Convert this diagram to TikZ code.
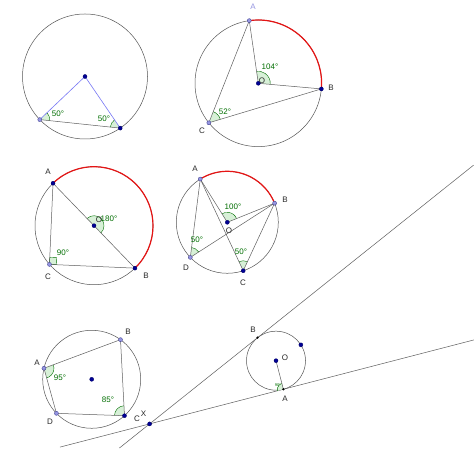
\documentclass[tikz,border=0pt]{standalone}
\usepackage{fontspec}
\setmainfont{Liberation Sans}
\usetikzlibrary{angles,calc}
\definecolor{ptdark}{RGB}{0,0,150}
\definecolor{ptlight}{RGB}{150,150,225}
\definecolor{ptedge}{RGB}{70,70,150}
\definecolor{segcol}{RGB}{95,95,95}
\definecolor{circcol}{RGB}{85,85,85}
\definecolor{violetline}{RGB}{120,120,245}
\definecolor{angfill}{RGB}{215,240,215}
\definecolor{angdraw}{RGB}{0,110,0}
\definecolor{labtext}{RGB}{40,40,40}
\definecolor{redarc}{RGB}{230,20,20}
\begin{document}
\begin{tikzpicture}[x=1pt,y=1pt,font=\fontsize{8}{9}\selectfont,
  circ/.style={draw=circcol,line width=0.5pt},
  seg/.style={draw=segcol,line width=0.5pt},
  vseg/.style={draw=violetline,line width=0.6pt},
  arcred/.style={draw=redarc,line width=1.2pt},
  dpt/.style={circle,fill=ptdark,draw=ptdark!70!black,inner sep=0pt,minimum size=4pt},
  lpt/.style={circle,fill=ptlight,draw=ptedge,inner sep=0pt,minimum size=4pt},
  bpt/.style={circle,fill=black,inner sep=0pt,minimum size=2.5pt},
  ang/.style={draw=angdraw,fill=angfill,line width=0.4pt,angle radius=10pt},
  alab/.style={text=angdraw,inner sep=0pt},
  lab/.style={text=labtext,inner sep=0pt}]
\useasboundingbox (0,0) rectangle (474,449);
\fill[white] (0,0) rectangle (474,449);

% ---------- circle 1
\coordinate (O1) at (85,372.5);
\coordinate (P1) at ($(O1)+(223.6:62.5)$);
\coordinate (P2) at ($(O1)+(-55.7:62.5)$);
\draw[circ] (O1) circle[radius=62.5];
\pic[ang] {angle=P2--P1--O1};
\pic[ang] {angle=O1--P2--P1};
\draw[seg] (P1) -- (P2);
\draw[vseg] (P1) -- (O1) -- (P2);
\node[dpt] (n1O) at (O1) {};
\node[lpt] (n1P1) at (P1) {};
\node[dpt] (n1P2) at (P2) {};
\node[alab] (t1a) at (58,335) {50°};
\node[alab] (t1b) at (104,330) {50°};

% ---------- circle 2
\coordinate (O2) at (258.3,365.7);
\coordinate (A2) at ($(O2)+(98.2:63.3)$);
\coordinate (B2) at ($(O2)+(-5.1:63.3)$);
\coordinate (C2) at ($(O2)+(218.6:63.3)$);
\draw[circ] (O2) circle[radius=63.3];
\draw[arcred] (A2) arc[start angle=98.2,end angle=-5.1,radius=63.3];
\pic[ang,angle radius=12pt] {angle=B2--O2--A2};
\pic[ang,angle radius=12pt] {angle=B2--C2--A2};
\draw[seg] (A2) -- (C2) -- (B2) -- (O2) -- (A2);
\node[dpt] (n2O) at (O2) {};
\node[lpt] (n2A) at (A2) {};
\node[dpt] (n2B) at (B2) {};
\node[lpt] (n2C) at (C2) {};
\node[lab,text=ptlight] (l2A) at (253,442) {A};
\node[lab] (l2O) at (262,368) {O};
\node[lab] (l2B) at (331,361) {B};
\node[lab] (l2C) at (202,318) {C};
\node[alab] (t2a) at (270,382) {104°};
\node[alab] (t2b) at (225,337) {52°};

% ---------- circle 3
\coordinate (O3) at (94,223.3);
\coordinate (A3) at ($(O3)+(134:59)$);
\coordinate (B3) at ($(O3)+(-46:59)$);
\coordinate (C3) at ($(O3)+(221:59)$);
\draw[circ] (O3) circle[radius=59];
\draw[arcred] (A3) arc[start angle=134,end angle=-46,radius=59];
\pic[ang] {angle=B3--O3--A3};
\coordinate (r1) at ($(C3)!7pt!(A3)$);
\coordinate (r2) at ($(C3)!7pt!(B3)$);
\coordinate (r3) at ($(r1)+(r2)-(C3)$);
\draw[draw=angdraw,fill=angfill,line width=0.4pt] (C3) -- (r1) -- (r3) -- (r2) -- cycle;
\draw[seg] (A3) -- (C3) -- (B3) -- (A3);
\node[dpt] (n3O) at (O3) {};
\node[dpt] (n3A) at (A3) {};
\node[dpt] (n3B) at (B3) {};
\node[lpt] (n3C) at (C3) {};
\node[lab] (l3A) at (48,277) {A};
\node[lab] (l3C) at (48,172) {C};
\node[lab] (l3B) at (146,173) {B};
\node[lab] (l3O) at (99,229) {O};
\node[alab] (t3a) at (63,196) {90°};
\node[alab] (t3b) at (109,230) {180°};

% ---------- circle 4
\coordinate (O4) at (227.3,226.7);
\coordinate (A4) at ($(O4)+(122:51)$);
\coordinate (B4) at ($(O4)+(22:51)$);
\coordinate (C4) at ($(O4)+(-71.8:51)$);
\coordinate (D4) at ($(O4)+(223.5:51)$);
\draw[circ] (O4) circle[radius=51];
\draw[arcred] (A4) arc[start angle=122,end angle=22,radius=51];
\pic[ang] {angle=B4--O4--A4};
\pic[ang] {angle=B4--D4--A4};
\pic[ang] {angle=B4--C4--A4};
\draw[seg] (A4) -- (D4) -- (B4) -- (C4) -- (A4);
\draw[seg] (A4) -- (O4) -- (B4);
\node[dpt] (n4O) at (O4) {};
\node[lpt] (n4A) at (A4) {};
\node[lpt] (n4B) at (B4) {};
\node[dpt] (n4C) at (C4) {};
\node[lpt] (n4D) at (D4) {};
\node[lab] (l4A) at (195,280) {A};
\node[lab] (l4B) at (285,249) {B};
\node[lab] (l4C) at (243,166) {C};
\node[lab] (l4D) at (186,181) {D};
\node[lab] (l4O) at (229,218) {O};
\node[alab] (t4a) at (233,242) {100°};
\node[alab] (t4b) at (197,209) {50°};
\node[alab] (t4c) at (241,197) {50°};

% ---------- circle 5
\coordinate (O5) at (91.7,69.7);
\coordinate (A5) at ($(O5)+(167:49)$);
\coordinate (B5) at ($(O5)+(54:49)$);
\coordinate (C5) at ($(O5)+(-48:49)$);
\coordinate (D5) at ($(O5)+(224:49)$);
\draw[circ] (O5) circle[radius=49];
\pic[ang] {angle=D5--A5--B5};
\pic[ang] {angle=B5--C5--D5};
\draw[seg] (A5) -- (B5) -- (C5) -- (D5) -- (A5);
\node[dpt] (n5O) at (O5) {};
\node[lpt] (n5A) at (A5) {};
\node[lpt] (n5B) at (B5) {};
\node[dpt] (n5C) at (C5) {};
\node[lpt] (n5D) at (D5) {};
\node[lab] (l5A) at (37,86) {A};
\node[lab] (l5B) at (128,117) {B};
\node[lab] (l5C) at (137,30) {C};
\node[lab] (l5D) at (50,27) {D};
\node[alab] (t5a) at (60,71) {95°};
\node[alab] (t5b) at (108,49) {85°};

% ---------- circle 6 and tangents
\coordinate (O6) at (276,88.3);
\coordinate (A6) at ($(O6)+(-75.5:29.5)$);
\coordinate (B6) at ($(O6)+(128.6:29.5)$);
\coordinate (E6) at ($(O6)+(32.5:29.5)$);
\coordinate (X) at (149.6,25.1);
\coordinate (L1s) at ($(X)!-0.28!(B6)$);
\coordinate (L1e) at ($(X)!3.0!(B6)$);
\coordinate (L2s) at ($(X)!-0.67!(A6)$);
\coordinate (L2e) at ($(X)!2.424!(A6)$);
\draw[circ] (O6) circle[radius=29.5];
\draw[seg] (L1s) -- (L1e);
\draw[seg] (L2s) -- (L2e);
\pic[ang,angle radius=6pt] {angle=O6--A6--X};
\draw[seg] (O6) -- (A6);
\node[dpt] (n6O) at (O6) {};
\node[dpt] (n6E) at (E6) {};
\node[bpt] (n6A) at (A6) {};
\node[bpt] (n6B) at (B6) {};
\node[dpt] (nX) at (X) {};
\node[lab] (l6O) at (285,91) {O};
\node[lab] (l6A) at (285,50) {A};
\node[lab] (l6B) at (253,119) {B};
\node[lab] (lX) at (143.5,35) {X};
\node[alab,font=\fontsize{4}{4}\selectfont] (t6a) at (278,64) {90°};
\end{tikzpicture}
\end{document}
